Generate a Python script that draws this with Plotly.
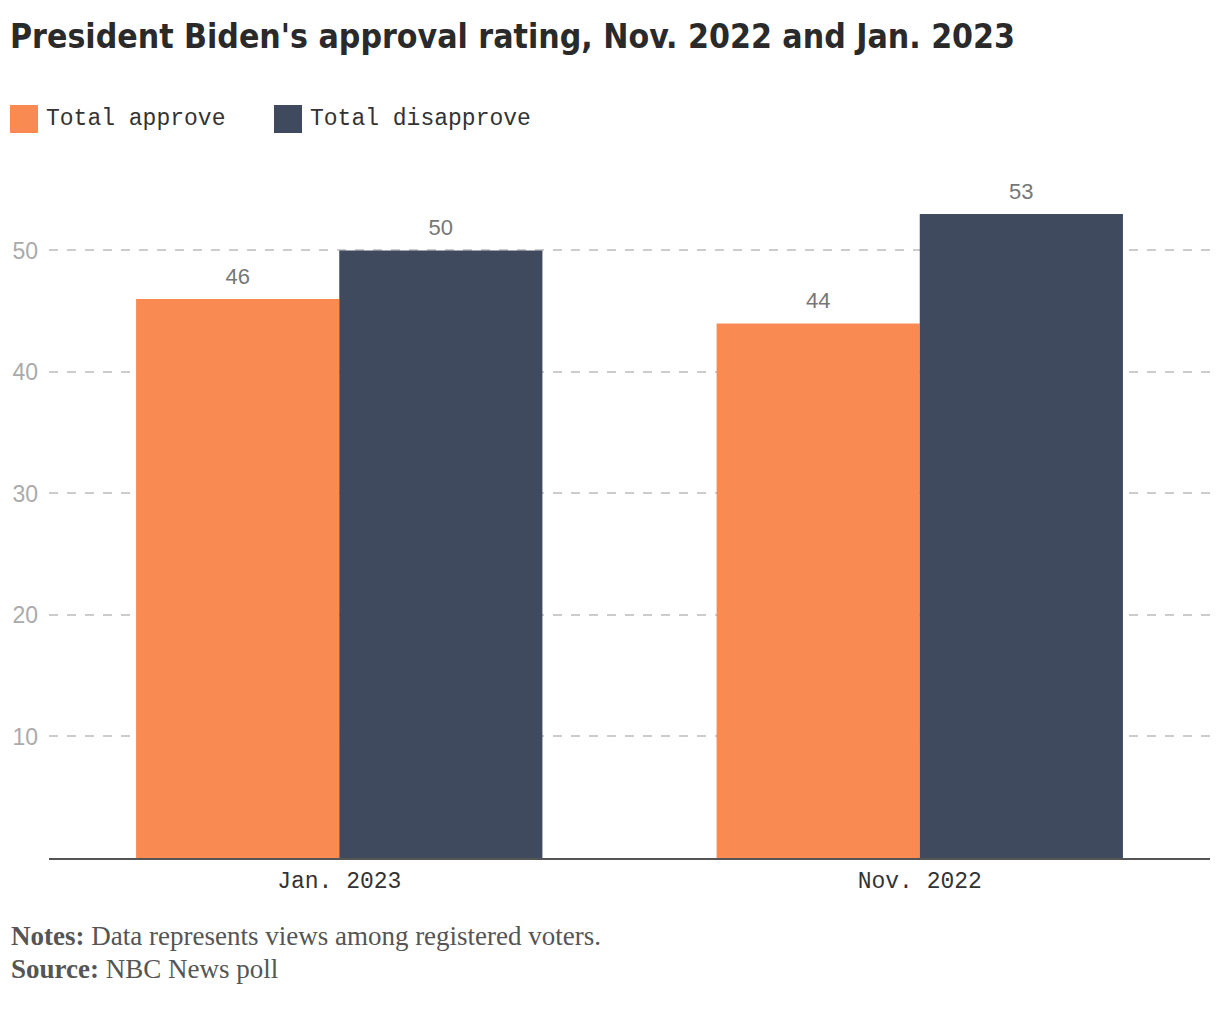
import plotly.graph_objects as go

# poll dates (x categories) and the two series, in percent
periods = ['Jan. 2023', 'Nov. 2022']
approve = [46, 44]
disapprove = [50, 53]
series_names = ['Total approve', 'Total disapprove']
y_ticks = [10, 20, 30, 40, 50]

ORANGE = '#F98A52'
NAVY = '#404A5E'

# the page puts the figure 8px in from the window corner
OFF = 8
W, H = 1220, 1012
L, R, T, B = 49 - OFF, 18, 180 - OFF, 162


def px_x(p):
    # window pixel -> paper x
    return (p - OFF - L) / (W - L - R)


def px_y(p):
    # window pixel -> paper y
    return (H - B - (p - OFF)) / (H - T - B)


fig = go.Figure()
for name, vals, color in zip(series_names, [approve, disapprove], [ORANGE, NAVY]):
    fig.add_trace(go.Bar(x=periods, y=vals, name=name, marker_color=color, marker_line_width=0,
                         offsetgroup=name, hoverinfo='x+y'))
# value labels, grouped the same way as the bars so they sit over them;
# the invisible marker just pushes the text a bit higher
for name, vals in zip(series_names, [approve, disapprove]):
    fig.add_trace(go.Scatter(x=periods, y=vals, mode='markers+text', text=vals, textposition='top center',
                             marker=dict(size=14, opacity=0), offsetgroup=name, cliponaxis=False,
                             hoverinfo='skip',
                             textfont=dict(family='Liberation Sans', size=22, color='#777777')))

# hand-made legend with big square swatches
legend_x = [10, 274]
for lx, name, color in zip(legend_x, series_names, [ORANGE, NAVY]):
    fig.add_shape(type='rect', xref='paper', yref='paper',
                  x0=px_x(lx), x1=px_x(lx + 28), y0=px_y(133), y1=px_y(105),
                  fillcolor=color, line_width=0)
    fig.add_annotation(text=name, xref='paper', yref='paper', x=px_x(lx + 34), y=px_y(119),
                       xanchor='left', yanchor='middle', showarrow=False,
                       font=dict(family='Liberation Mono', size=23, color='#333333'))

fig.add_annotation(text='<b>Notes:</b> Data represents views among registered voters.',
                   xref='paper', yref='paper', x=px_x(9), y=px_y(936), xanchor='left', yanchor='middle',
                   showarrow=False, font=dict(family='Liberation Serif', size=27, color='#555555'))
fig.add_annotation(text='<b>Source:</b> NBC News poll',
                   xref='paper', yref='paper', x=px_x(9), y=px_y(969), xanchor='left', yanchor='middle',
                   showarrow=False, font=dict(family='Liberation Serif', size=27, color='#555555'))

fig.update_layout(
    width=W, height=H,
    margin=dict(l=L, r=R, t=T, b=B, autoexpand=False),
    paper_bgcolor='white', plot_bgcolor='white',
    showlegend=False,
    barmode='group', bargap=0.3, bargroupgap=0,
    scattermode='group', scattergap=0.3,
    title=dict(text="<b>President Biden's approval rating, Nov. 2022 and Jan. 2023</b>",
               x=(10 - OFF) / W, xanchor='left', y=1 - (36 - OFF) / H, yanchor='middle',
               font=dict(family='DejaVu Sans Condensed', size=33.5, color='#2a2a2a')),
)
fig.update_xaxes(showline=True, linecolor='#555555', linewidth=2, ticks='', automargin=False,
                 tickfont=dict(family='Liberation Mono', size=23, color='#333333'),
                 ticklabelstandoff=0)
fig.update_yaxes(range=[0, 55.8], tickvals=y_ticks, showgrid=True, gridcolor='#cccccc', griddash='dash',
                 gridwidth=1.5, zeroline=False, showline=False, ticks='', automargin=False,
                 tickfont=dict(family='Liberation Sans', size=23, color='#aaaaaa'),
                 ticklabelstandoff=10)

fig.write_html('out.html')
